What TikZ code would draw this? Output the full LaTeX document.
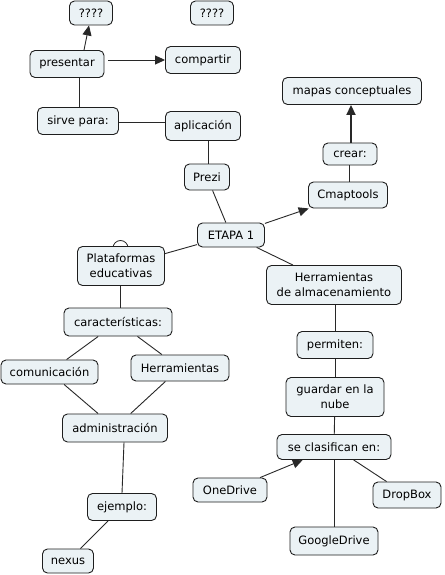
\documentclass[tikz,border=0pt]{standalone}
\usepackage{fontspec}
\setmainfont{DejaVu Sans}
\usetikzlibrary{arrows.meta}
\definecolor{boxfill}{RGB}{235,242,245}
\definecolor{boxline}{RGB}{30,30,30}
\definecolor{linkc}{RGB}{40,40,40}
\tikzset{
  cn/.style={draw=boxline, fill=boxfill, rounded corners=5pt, line width=0.9pt,
    inner sep=0pt, align=center, font=\fontsize{11.5}{15}\selectfont},
  lk/.style={draw=linkc, line width=0.9pt},
  ar/.style={lk, -{Triangle[length=10pt,width=9pt]}},
}
\begin{document}
\begin{tikzpicture}[x=1pt,y=-1pt]
\useasboundingbox[fill=white] (0,0) rectangle (444,575);
% small arc above Plataformas (behind the box); y axis is flipped
\draw[linkc, line width=0.8pt] (113,248) arc[start angle=180, end angle=360, radius=7.5];
\node[cn, minimum width=43pt, minimum height=24pt] (qL) at (91,13) {????};
\node[cn, minimum width=43pt, minimum height=24pt] (qR) at (212,13) {????};
\node[cn, minimum width=74pt, minimum height=27pt] (pres) at (67,64) {presentar};
\node[cn, minimum width=75pt, minimum height=27pt] (comp) at (203,60) {compartir};
\node[cn, minimum width=81pt, minimum height=27pt] (sirve) at (78,121) {sirve para:};
\node[cn, minimum width=75pt, minimum height=29pt] (apli) at (203,126) {aplicación};
\node[cn, minimum width=45pt, minimum height=26pt] (prezi) at (207,177) {Prezi};
\node[cn, minimum width=67pt, minimum height=24pt] (etapa) at (231,235) {ETAPA 1};
\node[cn, minimum width=79pt, minimum height=26pt] (cmap) at (348,195) {Cmaptools};
\node[cn, minimum width=54pt, minimum height=22pt] (crear) at (350,154) {crear:};
\node[cn, minimum width=139pt, minimum height=27pt] (mapas) at (352,91) {mapas conceptuales};
\node[cn, minimum width=135pt, minimum height=39pt] (halm) at (334,285) {Herramientas\\de almacenamiento};
\node[cn, minimum width=87pt, minimum height=39pt] (plat) at (121,266) {Plataformas\\educativas};
\node[cn, minimum width=108pt, minimum height=28pt] (carac) at (118,322) {características:};
\node[cn, minimum width=97pt, minimum height=24pt] (comu) at (49.5,372) {comunicación};
\node[cn, minimum width=98pt, minimum height=26pt] (herr) at (180,368) {Herramientas};
\node[cn, minimum width=105pt, minimum height=28pt] (admin) at (115,428) {administración};
\node[cn, minimum width=69pt, minimum height=27pt] (ejem) at (122,507) {ejemplo:};
\node[cn, minimum width=51pt, minimum height=24pt] (nexus) at (68,561) {nexus};
\node[cn, minimum width=76pt, minimum height=27pt] (perm) at (335,345) {permiten:};
\node[cn, minimum width=98pt, minimum height=39pt] (guar) at (335,397) {guardar en la\\nube};
\node[cn, minimum width=114pt, minimum height=25pt] (secl) at (334,447) {se clasifican en:};
\node[cn, minimum width=74pt, minimum height=24pt] (one) at (230,490) {OneDrive};
\node[cn, minimum width=68pt, minimum height=26pt] (drop) at (407,495) {DropBox};
\node[cn, minimum width=88pt, minimum height=28pt] (goog) at (334,541) {GoogleDrive};
% connectors
\draw[ar] (pres.north -| 84,0) -- (qL.south -| 89,0);
\draw[ar] ([xshift=4pt]pres.east |- comp.west) -- (comp.west);
\draw[lk] (sirve.north -| 79,0) -- (pres.south -| 79,0);
\draw[lk] (sirve.east |- 0,122) -- (apli.west |- 0,122);
\draw[lk] (apli.south -| 208,0) -- (prezi.north -| 208,0);
\draw[lk] (prezi) -- (etapa);
\draw[ar] (etapa) -- (cmap);
\draw[lk] (cmap.north -| 349,0) -- (crear.south -| 349,0);
\draw[ar, line width=1.8pt] (crear.north -| 351,0) -- (mapas.south -| 351,0);
\draw[lk] (etapa) -- (plat);
\draw[lk] (etapa) -- (halm);
\draw[lk] (plat.south -| 120,0) -- (carac.north -| 120,0);
\draw[lk] (carac) -- (comu);
\draw[lk] (carac) -- (herr);
\draw[lk] (comu) -- (admin);
\draw[lk] (herr) -- (admin);
\draw[lk] (admin.south -| 124,0) -- (ejem.north -| 122,0);
\draw[lk] (ejem) -- (nexus);
\draw[lk] (halm.south -| 335,0) -- (perm.north -| 335,0);
\draw[lk] (perm) -- (guar);
\draw[lk] (guar) -- (secl);
\draw[ar] (one) -- (secl);
\draw[lk] (secl) -- (drop);
\draw[lk] (secl) -- (goog);
\end{tikzpicture}
\end{document}
